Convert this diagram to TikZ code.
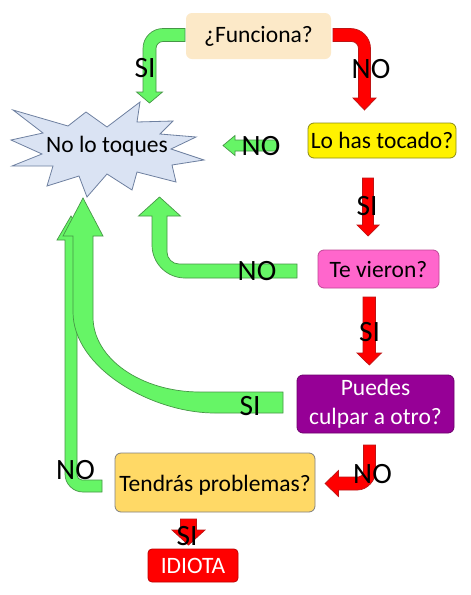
\documentclass[tikz,border=0pt]{standalone}
\usepackage{fontspec}
\setmainfont{Carlito}
\definecolor{gfill}{RGB}{102,245,102}
\definecolor{gline}{RGB}{70,150,70}
\definecolor{rfill}{RGB}{255,0,0}
\definecolor{rline}{RGB}{190,20,20}
\definecolor{burstfill}{RGB}{218,227,243}
\definecolor{burstline}{RGB}{110,128,160}
\definecolor{funcfill}{RGB}{252,233,200}
\definecolor{yelline}{RGB}{140,140,20}
\definecolor{pinkfill}{RGB}{255,102,204}
\definecolor{pinkline}{RGB}{190,70,150}
\definecolor{purpfill}{RGB}{150,0,150}
\definecolor{purpline}{RGB}{110,0,110}
\definecolor{goldfill}{RGB}{255,217,102}
\definecolor{greyline}{RGB}{128,128,128}
\definecolor{idline}{RGB}{190,0,0}
\begin{document}
\begin{tikzpicture}[x=1pt,y=-1pt,
  garrow/.style={fill=gfill,draw=gline,line width=0.7pt,line join=miter},
  rarrow/.style={fill=rfill,draw=rline,line width=0.7pt,line join=miter},
  lbl/.style={font=\fontsize{29.5}{30}\selectfont,anchor=base,inner sep=0pt},
  qbox/.style={font=\fontsize{23.5}{29}\selectfont,rounded corners=6pt,line width=0.8pt,inner sep=0pt,align=center}]
\useasboundingbox[fill=white] (0,0) rectangle (471,595);

% starburst
\draw[fill=burstfill,draw=burstline,line width=0.8pt,line join=miter]
 (13,110) -- (68,126) -- (86,112) -- (107,127) -- (140,102) -- (137,122) -- (173,121) -- (160,134) -- (196,137) -- (171,149) -- (204,160) -- (172,165) -- (176,182) -- (137,172) -- (132,190) -- (107,174) -- (87,197) -- (79,176) -- (47,186) -- (53,166) -- (12,166) -- (42,154) -- (11,140) -- (43,133) -- cycle;
\node[font=\fontsize{23.5}{28}\selectfont,inner sep=0pt] (toques) at (107,146) {No lo toques};

% boxes
\node[qbox,fill=funcfill,minimum width=145pt,minimum height=46pt] (func) at (258.5,36) {¿Funciona?};
\node[qbox,fill=yellow,draw=yelline,minimum width=148pt,minimum height=35pt] (tocado) at (382,140.5) {Lo has tocado?};
\node[qbox,fill=pinkfill,draw=pinkline,minimum width=121pt,minimum height=38pt] (vieron) at (378.5,269) {Te vieron?};
\node[qbox,fill=purpfill,draw=purpline,text=white,minimum width=157pt,minimum height=58pt] (culpar) at (375.5,404) {Puedes\\culpar a otro?};
\node[qbox,fill=goldfill,draw=greyline,minimum width=200pt,minimum height=59pt] (problemas) at (215,482.5) {\raisebox{-9pt}[0pt][0pt]{Tendrás problemas?}};
\node[qbox,fill=rfill,draw=idline,text=white,rounded corners=4pt,minimum width=90pt,minimum height=33pt] (idiota) at (193,565.5) {IDIOTA};

% A: Funciona -> SI (green)
\draw[garrow] (185,28.5) -- (163,28.5) .. controls (151.96,28.5) and (143,37.46) .. (143,48.5) -- (143,92) -- (136.5,92) -- (149.5,103) -- (162.5,92) -- (156,92) -- (156,48.5) .. controls (156,44.64) and (159.14,41.5) .. (163,41.5) -- (185,41.5) -- cycle;
% B: Funciona -> NO (red)
\draw[rarrow] (333,28.5) -- (350.5,28.5) .. controls (361.54,28.5) and (370.5,37.46) .. (370.5,48.5) -- (370.5,98) -- (376,98) -- (364.5,110) -- (353,98) -- (358.5,98) -- (358.5,48.5) .. controls (358.5,44.64) and (355.36,41.5) .. (351.5,41.5) -- (333,41.5) -- cycle;
% C: Lo has tocado NO (green, left)
\draw[garrow] (277,140) -- (235,140) -- (235,135.5) -- (223,145.5) -- (235,155.5) -- (235,151) -- (277,151) -- cycle;
% D: Lo has tocado SI (red, down)
\draw[rarrow] (362.5,178) -- (373.5,178) -- (373.5,225) -- (379,225) -- (368,236) -- (357,225) -- (362.5,225) -- cycle;
% E: Te vieron NO (green, up)
\draw[garrow] (297,264) -- (179,264) .. controls (172.38,264) and (167,258.62) .. (167,252) -- (167,216) -- (180.5,216) -- (159.5,197) -- (138.5,216) -- (152,216) -- (152,245) .. controls (152,263.22) and (166.78,278) .. (185,278) -- (297,278) -- cycle;
% F: Te vieron SI (red, down)
\draw[rarrow] (363,297) -- (375.5,297) -- (375.5,353) -- (381.5,353) -- (369.3,365) -- (357,353) -- (363,353) -- cycle;
% H: Tendras NO (thin green, up)
\draw[garrow] (102,480) -- (82,480) .. controls (79.24,480) and (77,477.76) .. (77,475) -- (77,240) -- (85,240) -- (71,216) -- (57,240) -- (65,240) -- (65,474) .. controls (65,483.94) and (73.06,492) .. (83,492) -- (102,492) -- cycle;
% G: Culpar SI (big green, up)
\draw[garrow] (283,392) -- (200,392) .. controls (140.9,392) and (93,358.4) .. (93,317) -- (93,236) -- (103,236) -- (83,198) -- (63,236) -- (73,236) -- (73,312) .. controls (73,367.8) and (151.4,413) .. (215,413) -- (283,413) -- cycle;
% I: Culpar NO (red, down-left)
\draw[rarrow] (363.5,445) -- (375.5,445) -- (375.5,472) .. controls (375.5,480.06) and (367.56,490) .. (357.5,490) -- (338.5,490) -- (338.5,496.5) -- (325,483.5) -- (338.5,470.5) -- (338.5,477) -- (358.5,477) .. controls (360.74,477) and (363.5,474.76) .. (363.5,472) -- cycle;
% J: Tendras SI (red, down)
\draw[rarrow] (180.5,519) -- (196.5,519) -- (196.5,530) -- (205,530) -- (188.5,545) -- (172,530) -- (180.5,530) -- cycle;

% labels
\node[lbl] (la) at (145,77) {SI};
\node[lbl] (lb) at (371,78) {NO};
\node[lbl] (lc) at (261,155) {NO};
\node[lbl] (ld) at (367,215) {SI};
\node[lbl] (le) at (257,280) {NO};
\node[lbl] (lf) at (369.5,341.5) {SI};
\node[lbl] (lg) at (250,415) {SI};
\node[lbl] (lh) at (75.5,479) {NO};
\node[lbl] (li) at (372.5,483) {NO};
\node[lbl] (lj) at (187,545) {SI};
\end{tikzpicture}
\end{document}
